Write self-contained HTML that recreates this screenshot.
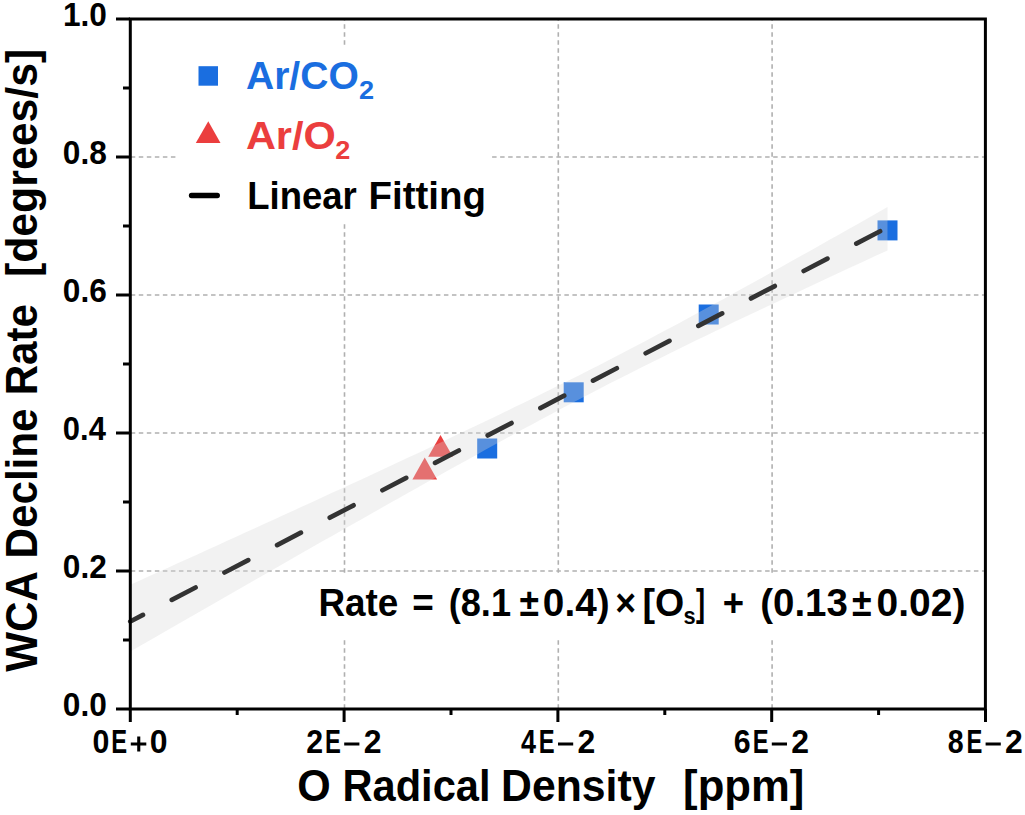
<!DOCTYPE html>
<html><head><meta charset="utf-8"><style>
html,body{margin:0;padding:0;background:#fff;overflow:hidden;}
svg{display:block;}
text{font-family:"Liberation Sans",sans-serif;font-weight:bold;white-space:pre;}
</style></head><body>
<svg width="1025" height="815" viewBox="0 0 1025 815">
<rect width="1025" height="815" fill="#fff"/>
<path d="M344.5,709V19M558.3,709V19M772.1,709V19" stroke="#b0b0b0" stroke-width="1.6" stroke-dasharray="4.5 3.5" stroke-dashoffset="-0.25" fill="none"/>
<path d="M130.5,571.0H986M130.5,433.0H986M130.5,295.0H986M130.5,157.0H986" stroke="#b0b0b0" stroke-width="1.6" stroke-dasharray="4.5 3.53" stroke-dashoffset="-0.25" fill="none"/>
<rect x="477.2" y="438.5" width="20" height="20" fill="#1a6ee0"/>
<rect x="563.7" y="382.3" width="20" height="20" fill="#1a6ee0"/>
<rect x="698.7" y="304.5" width="20" height="20" fill="#1a6ee0"/>
<rect x="877.5" y="220.4" width="20" height="20" fill="#1a6ee0"/>
<path d="M424.7,457.4L437.1,479.6L412.4,479.6Z" fill="#eb3e3e"/>
<path d="M440.5,435.0L452.8,456.8L428.2,456.8Z" fill="#eb3e3e"/>
<polygon points="130.3,584.8 139.9,580.5 149.5,576.1 159.1,571.8 168.6,567.4 178.2,563.1 187.8,558.7 197.4,554.4 207.0,550.0 216.6,545.7 226.1,541.3 235.7,536.9 245.3,532.6 254.9,528.2 264.5,523.8 274.1,519.5 283.7,515.1 293.2,510.7 302.8,506.3 312.4,501.9 322.0,497.5 331.6,493.1 341.2,488.7 350.8,484.3 360.3,479.9 369.9,475.4 379.5,471.0 389.1,466.5 398.7,462.1 408.3,457.6 417.8,453.2 427.4,448.7 437.0,444.2 446.6,439.7 456.2,435.1 465.8,430.6 475.4,426.0 484.9,421.5 494.5,416.9 504.1,412.3 513.7,407.6 523.3,403.0 532.9,398.3 542.4,393.6 552.0,388.8 561.6,384.1 571.2,379.3 580.8,374.4 590.4,369.6 600.0,364.7 609.5,359.7 619.1,354.8 628.7,349.8 638.3,344.8 647.9,339.7 657.5,334.6 667.0,329.5 676.6,324.4 686.2,319.2 695.8,314.0 705.4,308.8 715.0,303.6 724.6,298.4 734.1,293.1 743.7,287.8 753.3,282.5 762.9,277.2 772.5,271.8 782.1,266.5 791.7,261.1 801.2,255.8 810.8,250.4 820.4,245.0 830.0,239.6 839.6,234.2 849.2,228.8 858.7,223.4 868.3,217.9 877.9,212.5 887.5,207.1 887.5,250.4 877.9,254.8 868.3,259.3 858.7,263.7 849.2,268.1 839.6,272.6 830.0,277.0 820.4,281.5 810.8,286.0 801.2,290.4 791.7,294.9 782.1,299.4 772.5,303.9 762.9,308.5 753.3,313.0 743.7,317.6 734.1,322.1 724.6,326.7 715.0,331.3 705.4,336.0 695.8,340.6 686.2,345.3 676.6,350.0 667.0,354.7 657.5,359.5 647.9,364.2 638.3,369.0 628.7,373.9 619.1,378.7 609.5,383.6 600.0,388.6 590.4,393.5 580.8,398.5 571.2,403.6 561.6,408.6 552.0,413.7 542.4,418.8 532.9,424.0 523.3,429.1 513.7,434.3 504.1,439.6 494.5,444.8 484.9,450.1 475.4,455.4 465.8,460.7 456.2,466.0 446.6,471.3 437.0,476.7 427.4,482.0 417.8,487.4 408.3,492.8 398.7,498.2 389.1,503.6 379.5,509.0 369.9,514.4 360.3,519.9 350.8,525.3 341.2,530.7 331.6,536.2 322.0,541.6 312.4,547.1 302.8,552.6 293.2,558.0 283.7,563.5 274.1,569.0 264.5,574.5 254.9,580.0 245.3,585.4 235.7,590.9 226.1,596.4 216.6,601.9 207.0,607.4 197.4,612.9 187.8,618.4 178.2,623.9 168.6,629.5 159.1,635.0 149.5,640.5 139.9,646.0 130.3,651.5" fill="#d8d8d8" fill-opacity="0.33"/>
<line x1="130.3" y1="621.5" x2="887.5" y2="227.38" stroke="#333" stroke-width="4.7" stroke-linecap="round" stroke-dasharray="26.8 32.56" stroke-dashoffset="12.56"/>
<g stroke="#000" stroke-width="3" fill="none">
<rect x="130.3" y="19" width="855.1" height="690"/>
<path d="M130.3,709V722M344.1,709V722M557.9,709V722M771.7,709V722M985.5,709V722M237.2,709V715M451.0,709V715M664.8,709V715M878.6,709V715M116,709.0H130M116,571.0H130M116,433.0H130M116,295.0H130M116,157.0H130M116,19.0H130M123,640.0H130M123,502.0H130M123,364.0H130M123,226.0H130M123,88.0H130"/>
</g>
<rect x="177" y="47" width="312" height="174.5" fill="#fff"/>
<rect x="312" y="573" width="660" height="64" fill="#fff"/>
<rect x="198.5" y="66.2" width="19.5" height="19.5" fill="#1a6ee0"/>
<path d="M208.3,121.2L220.5,143.1L195.8,143.1Z" fill="#eb3e3e"/>
<line x1="191.5" y1="195.5" x2="217.3" y2="195.5" stroke="#000" stroke-width="5.3" stroke-linecap="round"/>
<text id="y0" x="62.84" y="716.40" font-size="33" fill="#000" textLength="44.00" lengthAdjust="spacingAndGlyphs">0.0</text>
<text id="y1" x="62.84" y="578.40" font-size="33" fill="#000" textLength="44.00" lengthAdjust="spacingAndGlyphs">0.2</text>
<text id="y2" x="62.86" y="440.40" font-size="33" fill="#000" textLength="43.02" lengthAdjust="spacingAndGlyphs">0.4</text>
<text id="y3" x="62.84" y="302.40" font-size="33" fill="#000" textLength="44.00" lengthAdjust="spacingAndGlyphs">0.6</text>
<text id="y4" x="62.84" y="164.40" font-size="33" fill="#000" textLength="44.00" lengthAdjust="spacingAndGlyphs">0.8</text>
<text id="y5" x="62.88" y="26.40" font-size="33" fill="#000" textLength="43.95" lengthAdjust="spacingAndGlyphs">1.0</text>
<text id="x0_0" x="92.38" y="753.10" font-size="33" fill="#000" textLength="16.87" lengthAdjust="spacingAndGlyphs">0</text>
<text id="x0_1" x="111.26" y="753.10" font-size="33" fill="#000" textLength="15.87" lengthAdjust="spacingAndGlyphs">E</text>
<text id="x0_3" x="149.83" y="753.10" font-size="33" fill="#000" textLength="17.79" lengthAdjust="spacingAndGlyphs">0</text>
<text id="x1_0" x="306.18" y="753.10" font-size="33" fill="#000" textLength="16.87" lengthAdjust="spacingAndGlyphs">2</text>
<text id="x1_1" x="325.06" y="753.10" font-size="33" fill="#000" textLength="15.87" lengthAdjust="spacingAndGlyphs">E</text>
<text id="x1_3" x="363.63" y="753.10" font-size="33" fill="#000" textLength="17.79" lengthAdjust="spacingAndGlyphs">2</text>
<text id="x2_0" x="520.90" y="753.10" font-size="33" fill="#000" textLength="14.99" lengthAdjust="spacingAndGlyphs">4</text>
<text id="x2_1" x="538.86" y="753.10" font-size="33" fill="#000" textLength="15.87" lengthAdjust="spacingAndGlyphs">E</text>
<text id="x2_3" x="577.43" y="753.10" font-size="33" fill="#000" textLength="17.79" lengthAdjust="spacingAndGlyphs">2</text>
<text id="x3_0" x="733.78" y="753.10" font-size="33" fill="#000" textLength="16.87" lengthAdjust="spacingAndGlyphs">6</text>
<text id="x3_1" x="752.66" y="753.10" font-size="33" fill="#000" textLength="15.87" lengthAdjust="spacingAndGlyphs">E</text>
<text id="x3_3" x="791.23" y="753.10" font-size="33" fill="#000" textLength="17.79" lengthAdjust="spacingAndGlyphs">2</text>
<text id="x4_0" x="947.64" y="753.10" font-size="33" fill="#000" textLength="15.88" lengthAdjust="spacingAndGlyphs">8</text>
<text id="x4_1" x="966.46" y="753.10" font-size="33" fill="#000" textLength="15.87" lengthAdjust="spacingAndGlyphs">E</text>
<text id="x4_3" x="1005.03" y="753.10" font-size="33" fill="#000" textLength="17.79" lengthAdjust="spacingAndGlyphs">2</text>
<text id="leg1" x="245.99" y="89.40" font-size="38.5" fill="#1a6ee0" textLength="112.77" lengthAdjust="spacingAndGlyphs">Ar/CO</text>
<text id="leg1s" x="359.12" y="99.00" font-size="25" fill="#1a6ee0" textLength="15.07" lengthAdjust="spacingAndGlyphs">2</text>
<text id="leg2" x="245.92" y="149.40" font-size="38.5" fill="#eb3e3e" textLength="89.93" lengthAdjust="spacingAndGlyphs">Ar/O</text>
<text id="leg2s" x="335.22" y="159.00" font-size="25" fill="#eb3e3e" textLength="15.07" lengthAdjust="spacingAndGlyphs">2</text>
<text id="leg3a" x="247.20" y="209.00" font-size="38.5" fill="#000" textLength="109.62" lengthAdjust="spacingAndGlyphs">Linear</text>
<text id="leg3b" x="368.50" y="209.00" font-size="38.5" fill="#000" textLength="117.49" lengthAdjust="spacingAndGlyphs">Fitting</text>
<text id="eq1" x="318.38" y="615.70" font-size="38.5" fill="#000" textLength="79.91" lengthAdjust="spacingAndGlyphs">Rate</text>
<text id="eq2" x="412.18" y="615.70" font-size="38.5" fill="#000" textLength="21.54" lengthAdjust="spacingAndGlyphs">=</text>
<text id="eq3" x="448.72" y="615.70" font-size="38.5" fill="#000" textLength="62.30" lengthAdjust="spacingAndGlyphs">(8.1</text>
<text id="eq4" x="519.58" y="615.70" font-size="38.5" fill="#000" textLength="19.47" lengthAdjust="spacingAndGlyphs">±</text>
<text id="eq5" x="542.89" y="615.70" font-size="38.5" fill="#000" textLength="66.76" lengthAdjust="spacingAndGlyphs">0.4)</text>
<text id="eq6" x="615.15" y="615.70" font-size="38.5" fill="#000" textLength="20.83" lengthAdjust="spacingAndGlyphs">×</text>
<text id="eq7" x="642.45" y="615.70" font-size="38.5" fill="#000" textLength="41.68" lengthAdjust="spacingAndGlyphs">[O</text>
<text id="eq8" x="683.39" y="624.20" font-size="24" fill="#000" textLength="12.13" lengthAdjust="spacingAndGlyphs">s</text>
<text id="eq9" x="695.90" y="615.70" font-size="38.5" fill="#000" textLength="9.10" lengthAdjust="spacingAndGlyphs">]</text>
<text id="eq10" x="722.81" y="615.70" font-size="38.5" fill="#000" textLength="21.30" lengthAdjust="spacingAndGlyphs">+</text>
<text id="eq11" x="760.20" y="615.70" font-size="38.5" fill="#000" textLength="87.66" lengthAdjust="spacingAndGlyphs">(0.13</text>
<text id="eq12" x="851.97" y="615.70" font-size="38.5" fill="#000" textLength="19.58" lengthAdjust="spacingAndGlyphs">±</text>
<text id="eq13" x="876.59" y="615.70" font-size="38.5" fill="#000" textLength="88.80" lengthAdjust="spacingAndGlyphs">0.02)</text>
<text id="xt1" x="297.25" y="800.80" font-size="44" fill="#000" textLength="33.46" lengthAdjust="spacingAndGlyphs">O</text>
<text id="xt2" x="342.46" y="800.80" font-size="44" fill="#000" textLength="148.02" lengthAdjust="spacingAndGlyphs">Radical</text>
<text id="xt3" x="501.09" y="800.80" font-size="44" fill="#000" textLength="154.37" lengthAdjust="spacingAndGlyphs">Density</text>
<text id="xt4" x="683.12" y="800.80" font-size="44" fill="#000" textLength="121.26" lengthAdjust="spacingAndGlyphs">[ppm]</text>
<text id="yt1" transform="translate(36.80,671.80) rotate(-90)" x="0" y="0" font-size="44" fill="#000" textLength="100.65" lengthAdjust="spacingAndGlyphs">WCA</text>
<text id="yt2" transform="translate(36.80,558.48) rotate(-90)" x="0" y="0" font-size="44" fill="#000" textLength="150.03" lengthAdjust="spacingAndGlyphs">Decline</text>
<text id="yt3" transform="translate(36.80,395.37) rotate(-90)" x="0" y="0" font-size="44" fill="#000" textLength="91.39" lengthAdjust="spacingAndGlyphs">Rate</text>
<text id="yt4" transform="translate(36.80,277.04) rotate(-90)" x="0" y="0" font-size="44" fill="#000" textLength="228.23" lengthAdjust="spacingAndGlyphs">[degrees/s]</text>
<path d="M130.80,742.4h15.5v3h-15.5zM137.20,736.5h3.1v15h-3.1zM344.20,742.5h15.2v3h-15.2zM558.00,742.5h15.2v3h-15.2zM771.80,742.5h15.2v3h-15.2zM985.60,742.5h15.2v3h-15.2z" fill="#000"/>
</svg>
</body></html>
